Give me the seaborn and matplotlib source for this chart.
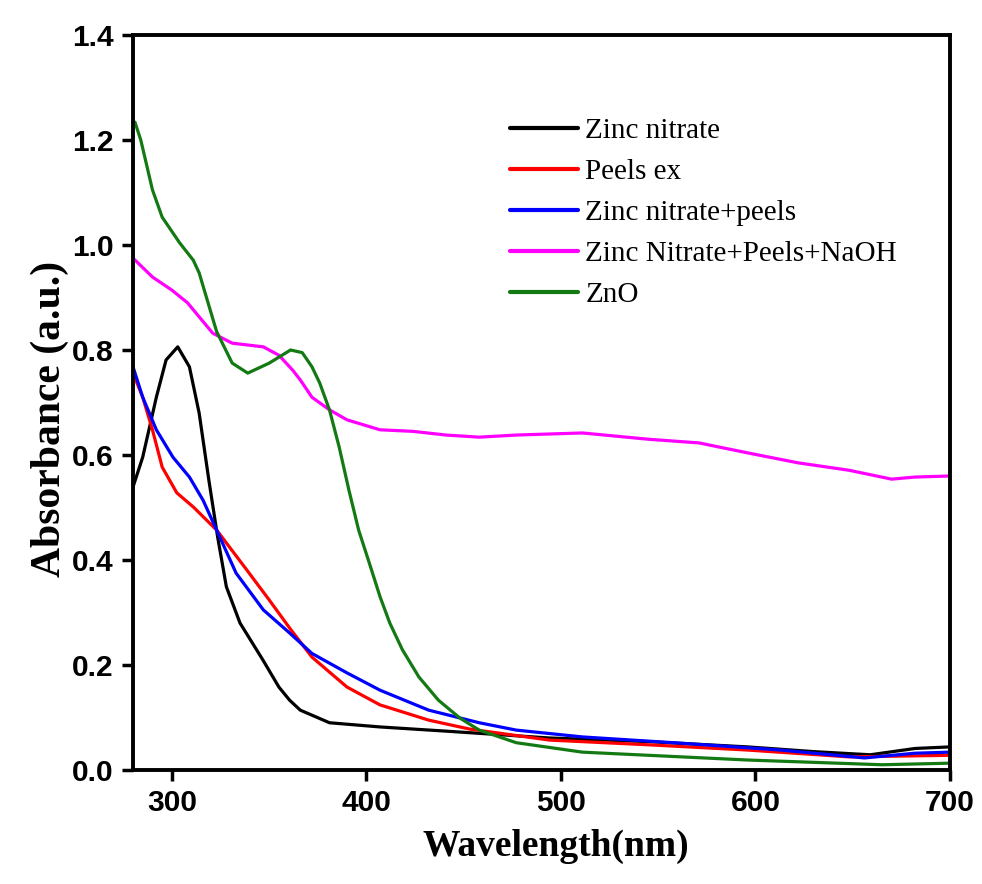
import numpy as np
import pandas as pd
import matplotlib
matplotlib.use("Agg")
import matplotlib.pyplot as plt
import seaborn as sns

# ---- data ----
zn_x = [280, 285, 292, 297, 303, 309, 314, 319, 323.5, 328, 335, 346.7, 355, 360.5, 366, 381, 407, 441, 494, 545, 596, 630, 659, 682, 700]
zn_y = [0.539, 0.596, 0.71, 0.781, 0.806, 0.768, 0.68, 0.552, 0.444, 0.349, 0.28, 0.21, 0.158, 0.133, 0.114, 0.09, 0.082, 0.074, 0.061, 0.054, 0.044, 0.035, 0.029, 0.041, 0.044]

pe_x = [280, 285, 290, 295, 302.5, 311, 323, 338.5, 350, 361, 372, 390, 407, 432, 453, 494, 545, 596, 648, 700]
pe_y = [0.756, 0.71, 0.648, 0.577, 0.528, 0.501, 0.457, 0.381, 0.324, 0.268, 0.215, 0.158, 0.124, 0.095, 0.078, 0.057, 0.048, 0.038, 0.025, 0.028]

zp_x = [280, 285, 292, 300.5, 309, 316, 323, 333, 347, 360.5, 372, 390, 407, 432, 458, 477, 511, 562, 613, 656, 682, 700]
zp_y = [0.768, 0.71, 0.648, 0.596, 0.558, 0.514, 0.457, 0.375, 0.305, 0.261, 0.222, 0.185, 0.152, 0.114, 0.09, 0.076, 0.063, 0.051, 0.038, 0.023, 0.032, 0.034]

zpn_x = [280, 290, 300, 308, 321, 331, 347, 355, 362, 366, 372, 381, 390, 407, 424, 441, 458, 477, 511, 545, 571, 596, 622, 648, 670, 682, 700]
zpn_y = [0.975, 0.939, 0.914, 0.89, 0.832, 0.813, 0.806, 0.79, 0.762, 0.743, 0.71, 0.686, 0.667, 0.648, 0.645, 0.638, 0.634, 0.638, 0.642, 0.63, 0.623, 0.604, 0.585, 0.571, 0.554, 0.558, 0.56]

zno_x = [281, 284, 290, 295, 304, 311, 314, 323, 331, 339, 350, 361, 367, 372, 376, 381, 386, 391, 396, 401.5, 407, 412, 418.5, 427, 437, 448, 458, 477, 511, 596, 665, 700]
zno_y = [1.234, 1.2, 1.105, 1.053, 1.004, 0.971, 0.947, 0.835, 0.775, 0.756, 0.775, 0.80, 0.795, 0.768, 0.737, 0.686, 0.615, 0.533, 0.457, 0.394, 0.33, 0.28, 0.229, 0.177, 0.133, 0.099, 0.076, 0.052, 0.034, 0.019, 0.01, 0.013]

labels = ["Zinc nitrate", "Peels ex", "Zinc nitrate+peels", "Zinc Nitrate+Peels+NaOH", "ZnO"]
colors = ["#000000", "#ff0000", "#0000ff", "#ff00ff", "#137a13"]
x_ticks = [300, 400, 500, 600, 700]
y_ticks = [0.0, 0.2, 0.4, 0.6, 0.8, 1.0, 1.2, 1.4]

series = [(zn_x, zn_y), (pe_x, pe_y), (zp_x, zp_y), (zpn_x, zpn_y), (zno_x, zno_y)]
frames = []
for lab, (xs, ys) in zip(labels, series):
    frames.append(pd.DataFrame({"Wavelength": xs, "Absorbance": ys, "Sample": lab}))
df = pd.concat(frames, ignore_index=True)

sns.set_style("ticks")
plt.rcParams["font.family"] = ["Liberation Serif", "DejaVu Serif"]
plt.rcParams["text.color"] = "black"
plt.rcParams["axes.labelcolor"] = "black"

fig = plt.figure(figsize=(9.82, 8.84), dpi=100)
ax = fig.add_axes([133/982, 1-770/884, 817/982, 735/884])

sns.lineplot(data=df, x="Wavelength", y="Absorbance", hue="Sample",
             hue_order=labels, palette=dict(zip(labels, colors)),
             estimator=None, sort=True, linewidth=2.3, ax=ax)

ax.set_xlim(280, 700)
ax.set_ylim(0, 1.4)
ax.set_xticks(x_ticks)
ax.set_yticks(y_ticks)
ax.set_yticklabels([f"{v:.1f}" for v in y_ticks])

for sp in ax.spines.values():
    sp.set_visible(True)
    sp.set_linewidth(2.8)
    sp.set_color("black")

ax.tick_params(axis="both", direction="out", length=8, width=2.5, colors="black",
               labelcolor="black", top=False, right=False, pad=6)
for t in ax.get_xticklabels() + ax.get_yticklabels():
    t.set_fontfamily("Liberation Sans")
    t.set_fontweight("bold")
    t.set_fontsize(21.5)
    t.set_color("black")

ax.set_xlabel("Wavelength(nm)", fontsize=27, fontweight="bold", color="black")
ax.set_ylabel("Absorbance (a.u.)", fontsize=30, fontweight="bold", color="black")
ax.xaxis.set_label_coords(0.518, -0.08)
ax.yaxis.set_label_coords(-0.078, 0.478)

leg = ax.legend(loc="upper left", bbox_to_anchor=(0.461, 0.887), frameon=False,
                fontsize=21, handlelength=2.35, handletextpad=0.25,
                labelspacing=0.5, borderpad=0, borderaxespad=0)
for line in leg.get_lines():
    line.set_linewidth(3.0)
for txt in leg.get_texts():
    txt.set_color("black")

fig.savefig("out.png", dpi=100)
